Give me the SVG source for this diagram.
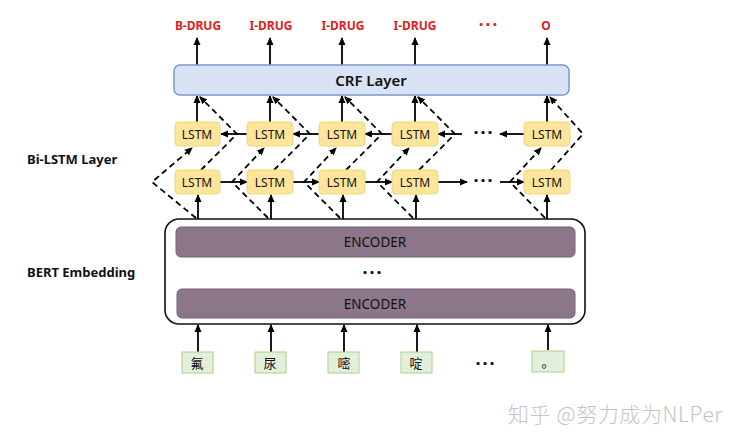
<svg xmlns="http://www.w3.org/2000/svg" width="753" height="446" viewBox="0 0 753 446">
<defs>
<marker id="ah" markerWidth="8" markerHeight="8" refX="7" refY="4" orient="auto" markerUnits="userSpaceOnUse"><path d="M0,0.5 L8,4 L0,7.5 z" fill="#000"/></marker>
<style>
text{font-family:"Noto Sans","Liberation Sans","Noto Sans CJK SC",sans-serif;}
.lbl{fill:#e02020;font-size:12px;font-weight:bold;text-anchor:middle;}
.side{fill:#111;font-size:13px;font-weight:bold;}
.lstm rect{fill:#fde59b;stroke:#f2d47e;stroke-width:1;}
.lstm text{font-size:12px;fill:#111;text-anchor:middle;}
.enc rect{fill:#8c7689;stroke:#74607a;stroke-width:1;}
.enc text{font-size:13.5px;fill:#111;text-anchor:middle;}
.tok rect{fill:#e2efda;stroke:#a9d18e;stroke-width:1;}
.tok text{font-size:13px;fill:#111;text-anchor:middle;font-family:"Noto Sans CJK SC",sans-serif;}
.ar{stroke:#000;stroke-width:1.8;fill:none;marker-end:url(#ah);}
.da{stroke:#000;stroke-width:1.8;fill:none;stroke-dasharray:6 4;marker-end:url(#ah);}
.dots{font-size:18px;font-weight:bold;fill:#111;text-anchor:middle;letter-spacing:2px;}
</style>
</defs>
<rect width="753" height="446" fill="#fff"/>

<g id="labels">
<text class="lbl" x="198" y="30">B-DRUG</text>
<text class="lbl" x="271" y="30">I-DRUG</text>
<text class="lbl" x="343" y="30">I-DRUG</text>
<text class="lbl" x="415" y="30">I-DRUG</text>
<text class="lbl" x="489" y="31" style="font-size:17px;letter-spacing:2px">···</text>
<text class="lbl" x="546" y="30">O</text>
</g>

<g id="side-labels">
<text class="side" x="27" y="164">Bi-LSTM Layer</text>
<text class="side" x="27" y="277">BERT Embedding</text>
</g>

<g id="connectors">
<line class="ar" x1="197" y1="65" x2="197" y2="38"/>
<line class="ar" x1="270" y1="65" x2="270" y2="38"/>
<line class="ar" x1="342" y1="65" x2="342" y2="38"/>
<line class="ar" x1="415" y1="65" x2="415" y2="38"/>
<line class="ar" x1="547" y1="65" x2="547" y2="38"/>
<line class="ar" x1="197" y1="122" x2="197" y2="96"/>
<line class="ar" x1="270" y1="122" x2="270" y2="96"/>
<line class="ar" x1="342" y1="122" x2="342" y2="96"/>
<line class="ar" x1="415" y1="122" x2="415" y2="96"/>
<line class="ar" x1="547" y1="122" x2="547" y2="96"/>
<line class="ar" x1="198" y1="219" x2="198" y2="195"/>
<line class="ar" x1="271" y1="219" x2="271" y2="195"/>
<line class="ar" x1="343" y1="219" x2="343" y2="195"/>
<line class="ar" x1="416" y1="219" x2="416" y2="195"/>
<line class="ar" x1="547" y1="219" x2="547" y2="195"/>
<line class="ar" x1="198" y1="352" x2="198" y2="325"/>
<line class="ar" x1="271" y1="352" x2="271" y2="325"/>
<line class="ar" x1="344" y1="352" x2="344" y2="325"/>
<line class="ar" x1="417" y1="352" x2="417" y2="325"/>
<line class="ar" x1="548" y1="350" x2="548" y2="325"/>
<line class="ar" x1="247" y1="134" x2="221" y2="134"/>
<line class="ar" x1="319" y1="134" x2="293" y2="134"/>
<line class="ar" x1="392" y1="134" x2="365" y2="134"/>
<line class="ar" x1="462" y1="134" x2="438" y2="134"/>
<line class="ar" x1="524" y1="134" x2="500" y2="134"/>
<line class="ar" x1="220" y1="182" x2="247" y2="182"/>
<line class="ar" x1="293" y1="182" x2="319" y2="182"/>
<line class="ar" x1="365" y1="182" x2="392" y2="182"/>
<line class="ar" x1="438" y1="182" x2="467" y2="182"/>
<line class="ar" x1="500" y1="182" x2="524" y2="182"/>
<path class="da" d="M196,218 L152,182 L192,148"/>
<path class="da" d="M268,218 L232,182 L264,148"/>
<path class="da" d="M340,218 L304,182 L336,148"/>
<path class="da" d="M413,218 L377,182 L409,148"/>
<path class="da" d="M545,218 L510,182 L541,148"/>
<path class="da" d="M201,170 L237,134 L200,97"/>
<path class="da" d="M274,170 L310,134 L273,97"/>
<path class="da" d="M346,170 L382,134 L345,97"/>
<path class="da" d="M419,170 L455,134 L418,97"/>
<path class="da" d="M551,170 L583,134 L550,97"/>
</g>

<g id="crf">
<rect x="174" y="65" width="395" height="30" rx="6" fill="#dae3f3" stroke="#7c98c8" stroke-width="1.5"/>
<text x="371" y="86" font-size="15" font-weight="600" fill="#111" text-anchor="middle">CRF Layer</text>
</g>

<g id="lstm-top-1" class="lstm"><rect x="175" y="122" width="45" height="24" rx="4"/><text x="197" y="138.5">LSTM</text></g>
<g id="lstm-top-2" class="lstm"><rect x="247" y="122" width="46" height="24" rx="4"/><text x="270" y="138.5">LSTM</text></g>
<g id="lstm-top-3" class="lstm"><rect x="319" y="122" width="46" height="24" rx="4"/><text x="342" y="138.5">LSTM</text></g>
<g id="lstm-top-4" class="lstm"><rect x="392" y="122" width="46" height="24" rx="4"/><text x="415" y="138.5">LSTM</text></g>
<g id="lstm-top-5" class="lstm"><rect x="524" y="122" width="46" height="24" rx="4"/><text x="547" y="138.5">LSTM</text></g>
<text class="dots" x="484" y="139">···</text>

<g id="lstm-bot-1" class="lstm"><rect x="175" y="170" width="45" height="24" rx="4"/><text x="197" y="186.5">LSTM</text></g>
<g id="lstm-bot-2" class="lstm"><rect x="247" y="170" width="46" height="24" rx="4"/><text x="270" y="186.5">LSTM</text></g>
<g id="lstm-bot-3" class="lstm"><rect x="319" y="170" width="46" height="24" rx="4"/><text x="342" y="186.5">LSTM</text></g>
<g id="lstm-bot-4" class="lstm"><rect x="392" y="170" width="46" height="24" rx="4"/><text x="415" y="186.5">LSTM</text></g>
<g id="lstm-bot-5" class="lstm"><rect x="524" y="170" width="46" height="24" rx="4"/><text x="547" y="186.5">LSTM</text></g>
<text class="dots" x="484" y="187">···</text>

<g id="bert">
<rect x="165" y="219" width="420" height="105" rx="14" fill="#fff" stroke="#111" stroke-width="1.6"/>
<g id="encoder-1" class="enc"><rect x="176" y="227" width="399" height="30" rx="5"/><text x="375" y="247">ENCODER</text></g>
<text class="dots" x="373" y="279">···</text>
<g id="encoder-2" class="enc"><rect x="177" y="289" width="398" height="29" rx="5"/><text x="375" y="308.5">ENCODER</text></g>
</g>

<g id="tok-1" class="tok"><rect x="182" y="352" width="31" height="21"/><text x="197" y="367.5">氟</text></g>
<g id="tok-2" class="tok"><rect x="255" y="352" width="31" height="21"/><text x="270" y="367.5">尿</text></g>
<g id="tok-3" class="tok"><rect x="328" y="352" width="31" height="21"/><text x="344" y="367.5">嘧</text></g>
<g id="tok-4" class="tok"><rect x="401" y="352" width="31" height="21"/><text x="416" y="367.5">啶</text></g>
<text class="dots" x="486" y="370">···</text>
<g id="tok-5" class="tok"><rect x="532" y="351" width="32" height="21"/><text x="548" y="366.5">。</text></g>

<text x="508" y="422" font-size="21" fill="#c4c4c4" letter-spacing="0.6" style="font-family:'Noto Sans CJK SC','Noto Sans',sans-serif;font-weight:300">知乎 @努力成为NLPer</text>
</svg>
